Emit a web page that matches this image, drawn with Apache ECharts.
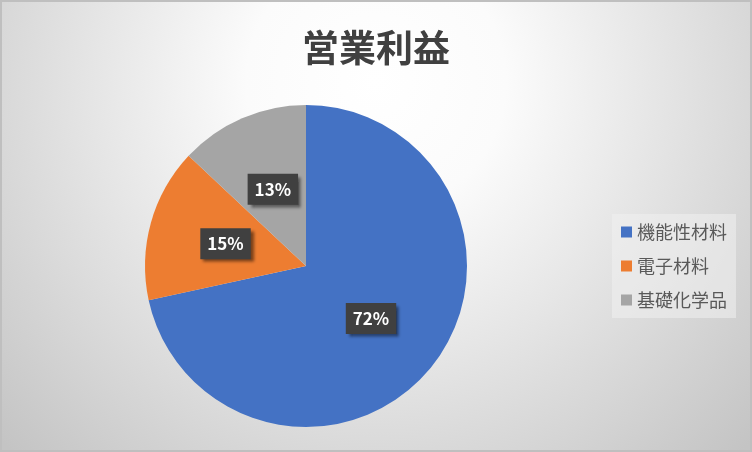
<!DOCTYPE html>
<html>
<head>
<meta charset="utf-8">
<script src="https://cdn.jsdelivr.net/npm/echarts@6/dist/echarts.min.js"></script>
<style>
  html, body { margin: 0; padding: 0; }
  #chart { width: 752px; height: 452px; }
</style>
</head>
<body>
<div id="chart"></div>
<script>
var titleText = '営業利益';
var categories = ['機能性材料', '電子材料', '基礎化学品'];
// shares; labels show them rounded
var shares = [71.6, 15.4, 13.0];
var colors = ['#4472C4', '#ED7D31', '#A5A5A5'];

var font = '"Noto Sans CJK JP", "Noto Sans", sans-serif';
var myChart = echarts.init(document.getElementById('chart'));

var pieData = categories.map(function (name, i) {
    return { name: name, value: shares[i], itemStyle: { color: colors[i] } };
});

var option = {
    animation: false,
    graphic: [{
        type: 'rect',
        z: -10,
        shape: { x: 1, y: 1, width: 750, height: 450 },
        style: {
            fill: {
                type: 'radial', x: 0.5, y: 0.18, r: 1.15,
                colorStops: [
                    { offset: 0, color: '#ffffff' },
                    { offset: 0.25, color: '#fbfbfb' },
                    { offset: 1, color: '#c4c4c4' }
                ]
            },
            stroke: '#bfbfbf',
            lineWidth: 2
        }
    }],
    title: {
        text: titleText,
        left: 'center',
        top: 24,
        textStyle: { fontFamily: font, fontSize: 37, fontWeight: 'bold', color: '#404040' }
    },
    legend: {
        orient: 'vertical',
        left: 612,
        top: 214,
        padding: [9, 9, 9, 9],
        itemGap: 16,
        itemWidth: 11,
        itemHeight: 11,
        icon: 'rect',
        backgroundColor: 'rgba(240,240,240,0.55)',
        textStyle: { fontFamily: font, fontSize: 18, color: '#595959' },
        data: categories
    },
    series: [{
        type: 'pie',
        center: [306, 266],
        radius: 161,
        startAngle: 90,
        clockwise: true,
        silent: true,
        data: pieData,
        label: {
            position: 'inside',
            formatter: function (p) { return Math.round(p.percent) + '%'; },
            fontFamily: font,
            fontSize: 17,
            fontWeight: 'bold',
            color: '#ffffff',
            backgroundColor: '#404040',
            padding: [8, 7, 6, 7],
            shadowColor: 'rgba(0,0,0,0.5)',
            shadowBlur: 3,
            shadowOffsetX: 3,
            shadowOffsetY: 3
        },
        labelLine: { show: false }
    }]
};
myChart.setOption(option);
</script>
</body>
</html>
